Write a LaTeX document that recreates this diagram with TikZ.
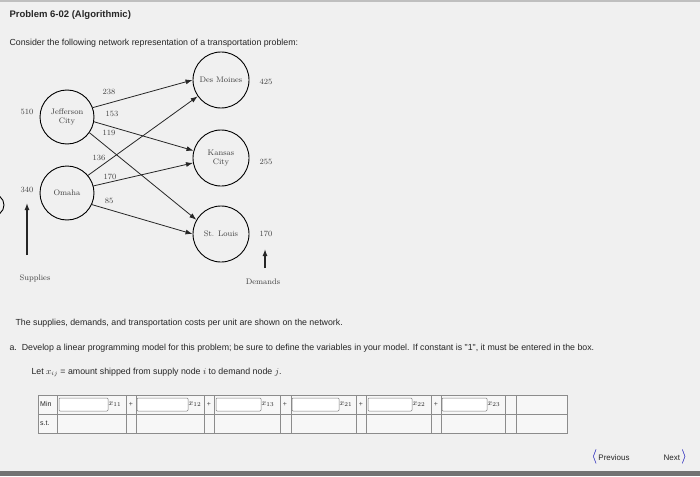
\documentclass[tikz,border=0pt]{standalone}
\usepackage{fontspec}
\newfontfamily\ui{Liberation Sans}
\usetikzlibrary{arrows.meta}
\begin{document}
\begin{tikzpicture}[x=1pt,y=-1pt,
  city/.style={circle,draw,line width=0.9pt,minimum size=56pt,inner sep=0pt,align=center,font=\fontsize{8}{9}\selectfont,text=black!75},
  lab/.style={font=\fontsize{8}{9}\selectfont,text=black!75},
  flow/.style={-{Latex[length=7pt,width=5pt]},line width=0.8pt,black!85},
  tx/.style={font=\ui\fontsize{8.8}{10}\selectfont,anchor=west,text=black!85},
  cell/.style={draw=black!45,line width=0.5pt},
  ibox/.style={draw=black!50,rounded corners=1pt,fill=white,line width=0.5pt}]
\fill[black!6] (0,0) rectangle (700,476);
\fill[black!25] (0,0) rectangle (700,2);
\fill[black!55] (0,471) rectangle (700,476);
\useasboundingbox (0,0) rectangle (700,476);
\node[tx,font=\ui\bfseries\fontsize{9.5}{11}\selectfont] (title) at (6,15) {Problem 6-02 (Algorithmic)};
\node[tx] (intro) at (6,43) {Consider the following network representation of a transportation problem:};
% network
\node[city,minimum size=54pt] (jc) at (67,117) {Jefferson\\City};
\node[city,minimum size=54pt] (om) at (67,193) {Omaha};
\node[city] (dm) at (221,80) {Des Moines};
\node[city] (kc) at (221,158) {Kansas\\City};
\node[city] (sl) at (221,234) {St. Louis};
\draw[flow] (jc.20) -- (dm.180);
\draw[flow] (jc.-10) -- (kc.165);
\draw[flow] (jc.-35) -- (sl.150);
\draw[flow] (om.40) -- (dm.215);
\draw[flow] (om.15) -- (kc.190);
\draw[flow] (om.-25) -- (sl.180);
\node[lab] (c1) at (109,92) {238};
\node[lab] (c2) at (112,114) {153};
\node[lab] (c3) at (109,133) {119};
\node[lab] (c4) at (99,158) {136};
\node[lab] (c5) at (110,177) {170};
\node[lab] (c6) at (109,201) {85};
\node[lab] (s1) at (27,112) {510};
\node[lab] (s2) at (27,190) {340};
\node[lab] (d1) at (266,82) {425};
\node[lab] (d2) at (266,162) {255};
\node[lab] (d3) at (266,234) {170};
\coordinate (sa) at (27,255); \coordinate (sb) at (27,203);
\draw[flow,line width=1.3pt] (sa) -- (sb);
\coordinate (da) at (265,268); \coordinate (db) at (265,249);
\draw[flow,line width=1.3pt] (da) -- (db);
\node[lab] (sup) at (35,278) {Supplies};
\node[lab] (dem) at (263,282) {Demands};
\draw[line width=0.9pt] (-10,217) arc (90:-90:{14} and {12});
% text
\node[tx] (t1) at (12,323) {The supplies, demands, and transportation costs per unit are shown on the network.};
\node[tx] (t2) at (6,348) {a.\ \ Develop a linear programming model for this problem; be sure to define the variables in your model. If constant is "1", it must be entered in the box.};
\node[tx] (t3) at (28,372) {Let $x_{ij}$ = amount shipped from supply node $i$ to demand node $j$.};
% table
\draw[cell,fill=black!3] (38,395) rectangle (567,433);
\draw[cell] (38,414) -- (567,414);
\foreach \c in {57,126,136,204,214,280,291,356,366,431,441,505,516}{\draw[cell] (\c,395) -- (\c,433);}
\node[tx,font=\ui\fontsize{7}{8}\selectfont,inner sep=1pt] (mn) at (39,404) {Min};
\node[tx,font=\ui\fontsize{7}{8}\selectfont,inner sep=1pt] (st) at (39,423) {s.t.};
\foreach \a/\b/\v in {59/108/11,137/188/12,216/261/13,292/339/21,368/412/22,442/487/23}{
  \draw[ibox] (\a,398) rectangle (\b,411);
  \node[tx,font=\ui\fontsize{8}{9}\selectfont,inner sep=0.5pt] at (\b,404.5) {$x_{\v}$};
}
\foreach \p in {131,209,285,361,436}{\node[font=\ui\fontsize{7}{8}\selectfont,text=black!70] at (\p,404) {+};}
% nav
\node[tx,font=\ui\fontsize{8}{9}\selectfont] (prev) at (588,457) {\textcolor{blue!70!black}{\Large$\langle$}\,Previous};
\node[tx,font=\ui\fontsize{8}{9}\selectfont] (next) at (660,457) {Next\,\textcolor{blue!70!black}{\Large$\rangle$}};
\end{tikzpicture}
\end{document}
